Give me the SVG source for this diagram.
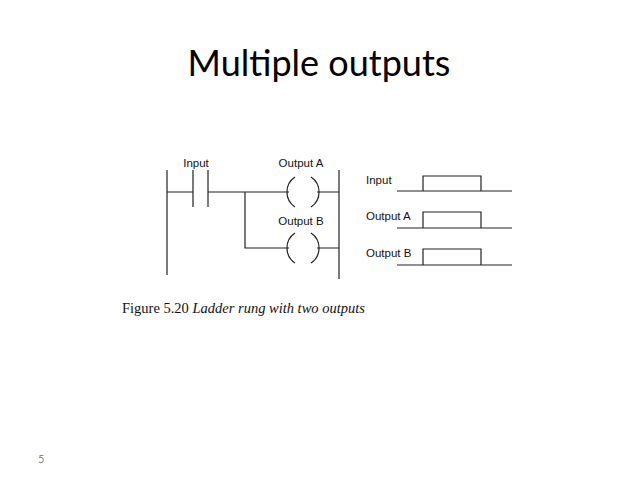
<svg xmlns="http://www.w3.org/2000/svg" width="638" height="478" viewBox="0 0 638 478">
<style>
.l{stroke:#222;stroke-width:1.2;fill:none}
.t{font-family:"Liberation Sans",Arial,sans-serif;font-size:11.5px;fill:#111}
</style>
<rect width="638" height="478" fill="#fff"/>
<text x="319" y="76" text-anchor="middle" font-family="Lato,'Open Sans',sans-serif" font-size="36" fill="#000">Multiple outputs</text>
<g id="connectors">
<path class="l" d="M167 170V275M339 170V279M167 192H193M208 192H289M317 192H339M245 192V248H289M317 248H339"/>
</g>
<g id="contact"><path class="l" d="M193 170V207M208 170V207"/><text class="t" x="196" y="167" text-anchor="middle">Input</text></g>
<g id="coilA"><path class="l" d="M295 177A18 18 0 0 0 295 207M311 177A18 18 0 0 1 311 207"/><text class="t" x="301" y="167" text-anchor="middle">Output A</text></g>
<g id="coilB"><path class="l" d="M295 233A18 18 0 0 0 295 263M311 233A18 18 0 0 1 311 263"/><text class="t" x="301" y="225" text-anchor="middle">Output B</text></g>
<g id="timing">
<path class="l" d="M397 191H512M423 191V176H481V191M397 228H512M423 228V212H481V228M397 265H512M423 265V249H481V265"/>
<text class="t" x="366" y="184">Input</text>
<text class="t" x="366" y="220">Output A</text>
<text class="t" x="366" y="257">Output B</text>
</g>
<text x="122" y="313" font-family="'Liberation Serif',serif" font-size="14.5" fill="#111">Figure 5.20  <tspan font-style="italic">Ladder rung with two outputs</tspan></text>
<text x="38" y="463" font-family="Lato,sans-serif" font-size="11" fill="#888">5</text>
</svg>
